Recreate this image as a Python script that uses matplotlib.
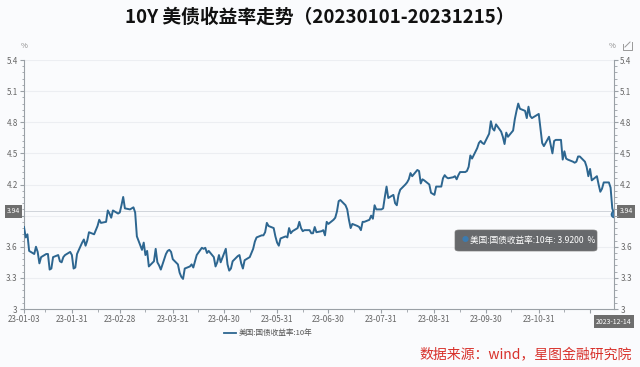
import matplotlib
matplotlib.use("Agg")
import matplotlib.pyplot as plt
import matplotlib.dates as mdates
from matplotlib.patches import FancyBboxPatch
import pandas as pd
import numpy as np

plt.rcParams['font.family'] = ['Noto Sans CJK SC', 'DejaVu Sans']

title = "10Y 美债收益率走势（20230101-20231215）"
series_name = "美国:国债收益率:10年"
source_text = "数据来源：wind，星图金融研究院"
start_date, end_date = "2023-01-03", "2023-12-14"

# weekly rows of business-day values (Mon..Fri)
yield_10y = [
    3.79, 3.69, 3.72, 3.56,                 # Jan 3-6
    3.53, 3.60, 3.55, 3.44, 3.50,           # Jan 9
    3.53, 3.53, 3.38, 3.39, 3.50,           # Jan 16
    3.52, 3.46, 3.45, 3.50, 3.52,           # Jan 23
    3.55, 3.52, 3.39, 3.40, 3.53,           # Jan 30
    3.64, 3.67, 3.61, 3.66, 3.74,           # Feb 6
    3.72, 3.76, 3.80, 3.86, 3.83,           # Feb 13
    3.84, 3.95, 3.92, 3.88, 3.95,           # Feb 20
    3.92, 3.93, 4.00, 4.08, 3.97,           # Feb 27
    3.96, 3.97, 3.98, 3.93, 3.70,           # Mar 6
    3.57, 3.64, 3.52, 3.56, 3.41,           # Mar 13
    3.46, 3.58, 3.45, 3.42, 3.38,           # Mar 20
    3.53, 3.56, 3.57, 3.55, 3.48,           # Mar 27
    3.43, 3.35, 3.31, 3.29, 3.39,           # Apr 3
    3.41, 3.43, 3.40, 3.46, 3.52,           # Apr 10
    3.59, 3.58, 3.59, 3.54, 3.56,           # Apr 17
    3.50, 3.41, 3.45, 3.52, 3.45,           # Apr 24
    3.58, 3.43, 3.37, 3.39, 3.46,           # May 1
    3.51, 3.52, 3.44, 3.39, 3.47,           # May 8
    3.50, 3.54, 3.58, 3.65, 3.69,           # May 15
    3.71, 3.71, 3.74, 3.83, 3.80,           # May 22
    3.78, 3.70, 3.64, 3.61, 3.68,           # May 29
    3.70, 3.69, 3.78, 3.73, 3.75,           # Jun 5
    3.78, 3.84, 3.78, 3.75, 3.76,           # Jun 12
    3.76, 3.73, 3.73, 3.79, 3.74,           # Jun 19
    3.75, 3.76, 3.71, 3.84, 3.82,           # Jun 26
    3.86, 3.88, 3.94, 4.04, 4.05,           # Jul 3
    4.00, 3.96, 3.86, 3.78, 3.82,           # Jul 10
    3.80, 3.79, 3.76, 3.84, 3.84,           # Jul 17
    3.86, 3.90, 3.87, 4.00, 3.96,           # Jul 24
    3.96, 3.97, 4.08, 4.18, 4.07,           # Jul 31
    4.10, 4.02, 4.00, 4.10, 4.15,           # Aug 7
    4.20, 4.22, 4.25, 4.31, 4.28,           # Aug 14
    4.34, 4.33, 4.21, 4.25, 4.24,           # Aug 21
    4.20, 4.12, 4.11, 4.10, 4.18,           # Aug 28
    4.18, 4.26, 4.29, 4.27, 4.26,           # Sep 4
    4.27, 4.28, 4.25, 4.29, 4.32,           # Sep 11
    4.32, 4.33, 4.37, 4.48, 4.45,           # Sep 18
    4.55, 4.60, 4.62, 4.60, 4.59,           # Sep 25
    4.69, 4.81, 4.74, 4.72, 4.78,           # Oct 2
    4.71, 4.66, 4.59, 4.70, 4.66,           # Oct 9
    4.72, 4.83, 4.91, 4.98, 4.93,           # Oct 16
    4.91, 4.84, 4.95, 4.86, 4.84,           # Oct 23
    4.87, 4.88, 4.74, 4.60, 4.57,           # Oct 30
    4.66, 4.58, 4.50, 4.62, 4.63,           # Nov 6
    4.63, 4.44, 4.52, 4.45, 4.44,           # Nov 13
    4.42, 4.41, 4.42, 4.47, 4.47,           # Nov 20
    4.42, 4.37, 4.28, 4.35, 4.24,           # Nov 27
    4.28, 4.20, 4.13, 4.16, 4.22,           # Dec 4
    4.22, 4.17, 3.97, 3.92,                 # Dec 11-14
]
dates = pd.bdate_range(start_date, end_date)
n = min(len(dates), len(yield_10y))
dates = dates[:n]
vals = np.array(yield_10y[:n])

tick_dates = ["2023-01-03", "2023-01-31", "2023-02-28", "2023-03-31", "2023-04-30",
              "2023-05-31", "2023-06-30", "2023-07-31", "2023-08-31", "2023-09-30",
              "2023-10-31", "2023-11-30"]
tick_labels = ["23-01-03", "23-01-31", "23-02-28", "23-03-31", "23-04-30", "23-05-31",
               "23-06-30", "23-07-31", "23-08-31", "23-09-30", "23-10-31", ""]
y_ticks = [3.0, 3.3, 3.6, 3.9, 4.2, 4.5, 4.8, 5.1, 5.4]
y_labels = ["3", "3.3", "3.6", "", "4.2", "4.5", "4.8", "5.1", "5.4"]
last_label = "3.94"
last_date_label = "2023-12-14"
tooltip = "美国:国债收益率:10年: 3.9200  %"

bg = "#fafbfd"
line_color = "#2d6690"
axis_color = "#9aa0a6"
text_gray = "#666666"

fig = plt.figure(figsize=(6.4, 3.67), dpi=100, facecolor=bg)
ax = fig.add_axes([24/640, 58/367, 590/640, 249/367])
ax.set_facecolor(bg)

ax.plot(dates, vals, color=line_color, lw=1.4, zorder=3)
ax.plot(dates[-1:], vals[-1:], 'o', color="#3b7bb0", ms=4.5, zorder=4,
        markeredgecolor="#2d6690")

ax.set_xlim(pd.Timestamp(start_date), pd.Timestamp(end_date))
ax.set_ylim(3.0, 5.4)
ax.set_yticks(y_ticks)
ax.set_yticklabels(y_labels)
ax.yaxis.set_minor_locator(matplotlib.ticker.MultipleLocator(0.06))
ax.set_xticks(pd.to_datetime(tick_dates))
ax.set_xticklabels(tick_labels)
ax.xaxis.set_minor_locator(mdates.DayLocator(bymonthday=15))

for y in y_ticks[1:]:
    ax.axhline(y, color="#eceef2", lw=0.8, zorder=0)

for s in ["top", "right"]:
    ax.spines[s].set_visible(False)
for s in ["left", "bottom"]:
    ax.spines[s].set_color(axis_color)
    ax.spines[s].set_linewidth(0.8)
ax.tick_params(axis='both', which='major', length=3, color=axis_color,
               labelsize=5.8, labelcolor=text_gray, pad=1.5)
ax.tick_params(axis='both', which='minor', length=1.8, color=axis_color)

ax2 = ax.twinx()
ax2.set_ylim(3.0, 5.4)
ax2.set_yticks(y_ticks)
ax2.set_yticklabels(y_labels)
ax2.yaxis.set_minor_locator(matplotlib.ticker.MultipleLocator(0.06))
for s in ["top", "left", "bottom"]:
    ax2.spines[s].set_visible(False)
ax2.spines["right"].set_color(axis_color)
ax2.spines["right"].set_linewidth(0.8)
ax2.tick_params(axis='y', which='major', length=3, color=axis_color,
                labelsize=5.8, labelcolor=text_gray, pad=1.5)
ax2.tick_params(axis='y', which='minor', length=1.8, color=axis_color)

# crosshair at last point
ax.axhline(vals[-1] + 0.02, color="#d0d4da", lw=0.7, zorder=1)
ax.axvline(dates[-1], color="#d0d4da", lw=0.7, zorder=1)

# axis pointer labels
box = dict(boxstyle="square,pad=0.3", fc="#6e6e6e", ec="none")
ax.annotate(last_label, xy=(0, vals[-1] + 0.02), xycoords=('axes fraction', 'data'),
            xytext=(-3, 0), textcoords='offset points', ha='right', va='center',
            fontsize=5, color='white', bbox=box)
ax.annotate(last_label, xy=(1, vals[-1] + 0.02), xycoords=('axes fraction', 'data'),
            xytext=(4, 0), textcoords='offset points', ha='left', va='center',
            fontsize=5, color='white', bbox=box)
ax.annotate(last_date_label, xy=(dates[-1], 0), xycoords=('data', 'axes fraction'),
            xytext=(0, -9), textcoords='offset points', ha='center', va='center',
            fontsize=5, color='white', bbox=box)

# tooltip
tip = FancyBboxPatch((455/640, (367-251)/367), 142/640, 21/367,
                     boxstyle="round,pad=0,rounding_size=0.006",
                     transform=fig.transFigure, fc="#5f6164", ec="#777777",
                     lw=0.5, alpha=0.95, zorder=10)
fig.patches.append(tip)
fig.text(462/640, (367-240)/367, "●", color="#3b7bb0", fontsize=5, va='center',
         ha='left', zorder=11)
fig.text(470/640, (367-240)/367, tooltip, color="white", fontsize=6.2, va='center',
         ha='left', zorder=11)

# % unit labels
fig.text(24/640, (367-46)/367, "%", fontsize=5.5, color="#888888", ha='center', va='center')
fig.text(612/640, (367-46)/367, "%", fontsize=5.5, color="#888888", ha='center', va='center')
# small restore icon (drawn shape)
ix, iy = 623/640, (367-50)/367
sx, sy = 1/640, 1/367
fig.lines.append(plt.Line2D([ix, ix, ix + 9*sx, ix + 9*sx],
                            [iy + 6*sy, iy, iy, iy + 8*sy], color="#999999", lw=0.7,
                            transform=fig.transFigure))
fig.lines.append(plt.Line2D([ix + 2*sx, ix + 7*sx], [iy + 3*sy, iy + 8*sy],
                            color="#999999", lw=0.7, transform=fig.transFigure))

# title
fig.text(0.5, (367-17)/367, title, fontsize=13.5, fontweight='bold', color='#111111',
         ha='center', va='center')

# legend
fig.lines.append(plt.Line2D([224/640, 236/640], [(367-333)/367]*2, color=line_color,
                            lw=1.3, transform=fig.transFigure))
fig.text(239/640, (367-333)/367, series_name, fontsize=5.5, color="#555555",
         ha='left', va='center')

# source
fig.text(632/640, (367-355)/367, source_text, fontsize=10, color="#d8312b",
         style='italic', ha='right', va='center')

fig.savefig("out.png", dpi=100, facecolor=bg)
